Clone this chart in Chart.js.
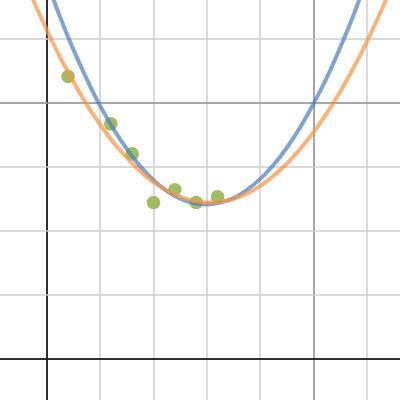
<!DOCTYPE html>
<html>
<head>
<meta charset="utf-8">
<script src="https://cdn.jsdelivr.net/npm/chart.js@4/dist/chart.umd.min.js"></script>
<style>
html,body{margin:0;padding:0;background:#fff;}
#wrap{width:400px;height:400px;}
</style>
</head>
<body>
<div id="wrap"><canvas id="c"></canvas></div>
<script>
// Observed data points (green dots)
const dotX = [0.4, 1.2, 1.6, 2.0, 2.4, 2.8, 3.2];
const dotY = [4.41, 3.67, 3.20, 2.44, 2.64, 2.44, 2.53];

// Blue fitted curve
const blueX = [0, 0.25, 0.5, 0.75, 1, 1.25, 1.5, 1.75, 2, 2.25, 2.5, 2.75, 3, 3.25, 3.5, 3.75, 4, 4.25, 4.5, 4.75, 5, 5.25, 5.5, 5.75, 6];
const blueY = [5.90, 5.34, 4.83, 4.37, 3.95, 3.59, 3.28, 3.01, 2.79, 2.62, 2.50, 2.43, 2.41, 2.44, 2.51, 2.64, 2.81, 3.03, 3.30, 3.62, 3.99, 4.40, 4.87, 5.38, 5.94];

// Orange fitted curve
const orangeX = [-0.5, -0.25, 0, 0.25, 0.5, 0.75, 1, 1.25, 1.5, 1.75, 2, 2.25, 2.5, 2.75, 3, 3.25, 3.5, 3.75, 4, 4.25, 4.5, 4.75, 5, 5.25, 5.5, 5.75, 6, 6.25, 6.5];
const orangeY = [6.10, 5.60, 5.14, 4.71, 4.33, 3.97, 3.66, 3.38, 3.14, 2.93, 2.76, 2.63, 2.53, 2.47, 2.44, 2.45, 2.50, 2.58, 2.70, 2.86, 3.05, 3.28, 3.54, 3.84, 4.18, 4.55, 4.96, 5.41, 5.89];

// Grid line positions
const xGrid = [0, 1, 2, 3, 4, 5, 6];
const yGrid = [0, 1, 2, 3, 4, 5];
const xMajor = 5;
const yMajor = 4;

const toPts = (xs, ys) => xs.map((x, i) => ({x: x, y: ys[i]}));

function gridColor(major) {
  return (ctx) => {
    const v = ctx.tick ? ctx.tick.value : null;
    if (v === 0) return 'rgba(30,30,30,0.92)';
    if (v === major) return 'rgba(150,150,150,0.85)';
    return 'rgba(205,205,205,0.75)';
  };
}

new Chart(document.getElementById('c'), {
  type: 'scatter',
  data: {
    datasets: [
      {
        label: 'orange',
        data: toPts(orangeX, orangeY),
        showLine: true,
        borderColor: 'rgba(247,150,70,0.72)',
        borderWidth: 4,
        pointRadius: 0,
        cubicInterpolationMode: 'monotone',
        order: 0
      },
      {
        label: 'blue',
        data: toPts(blueX, blueY),
        showLine: true,
        borderColor: 'rgba(79,129,189,0.72)',
        borderWidth: 4,
        pointRadius: 0,
        cubicInterpolationMode: 'monotone',
        order: 1
      },
      {
        label: 'points',
        data: toPts(dotX, dotY),
        showLine: false,
        backgroundColor: 'rgba(155,187,89,0.95)',
        borderWidth: 0,
        pointRadius: 6.8,
        order: 2
      }
    ]
  },
  options: {
    responsive: true,
    maintainAspectRatio: false,
    animation: false,
    layout: {padding: 0, autoPadding: false},
    plugins: {legend: {display: false}, tooltip: {enabled: false}},
    scales: {
      x: {
        type: 'linear',
        min: -0.875,
        max: 6.616,
        afterBuildTicks: (s) => { s.ticks = xGrid.map(v => ({value: v})); },
        ticks: {display: false},
        border: {display: false},
        grid: {drawTicks: false, color: gridColor(xMajor), lineWidth: 2}
      },
      y: {
        type: 'linear',
        min: -0.645,
        max: 5.605,
        afterBuildTicks: (s) => { s.ticks = yGrid.map(v => ({value: v})); },
        ticks: {display: false},
        border: {display: false},
        grid: {drawTicks: false, color: gridColor(yMajor), lineWidth: 2}
      }
    }
  }
});
</script>
</body>
</html>
